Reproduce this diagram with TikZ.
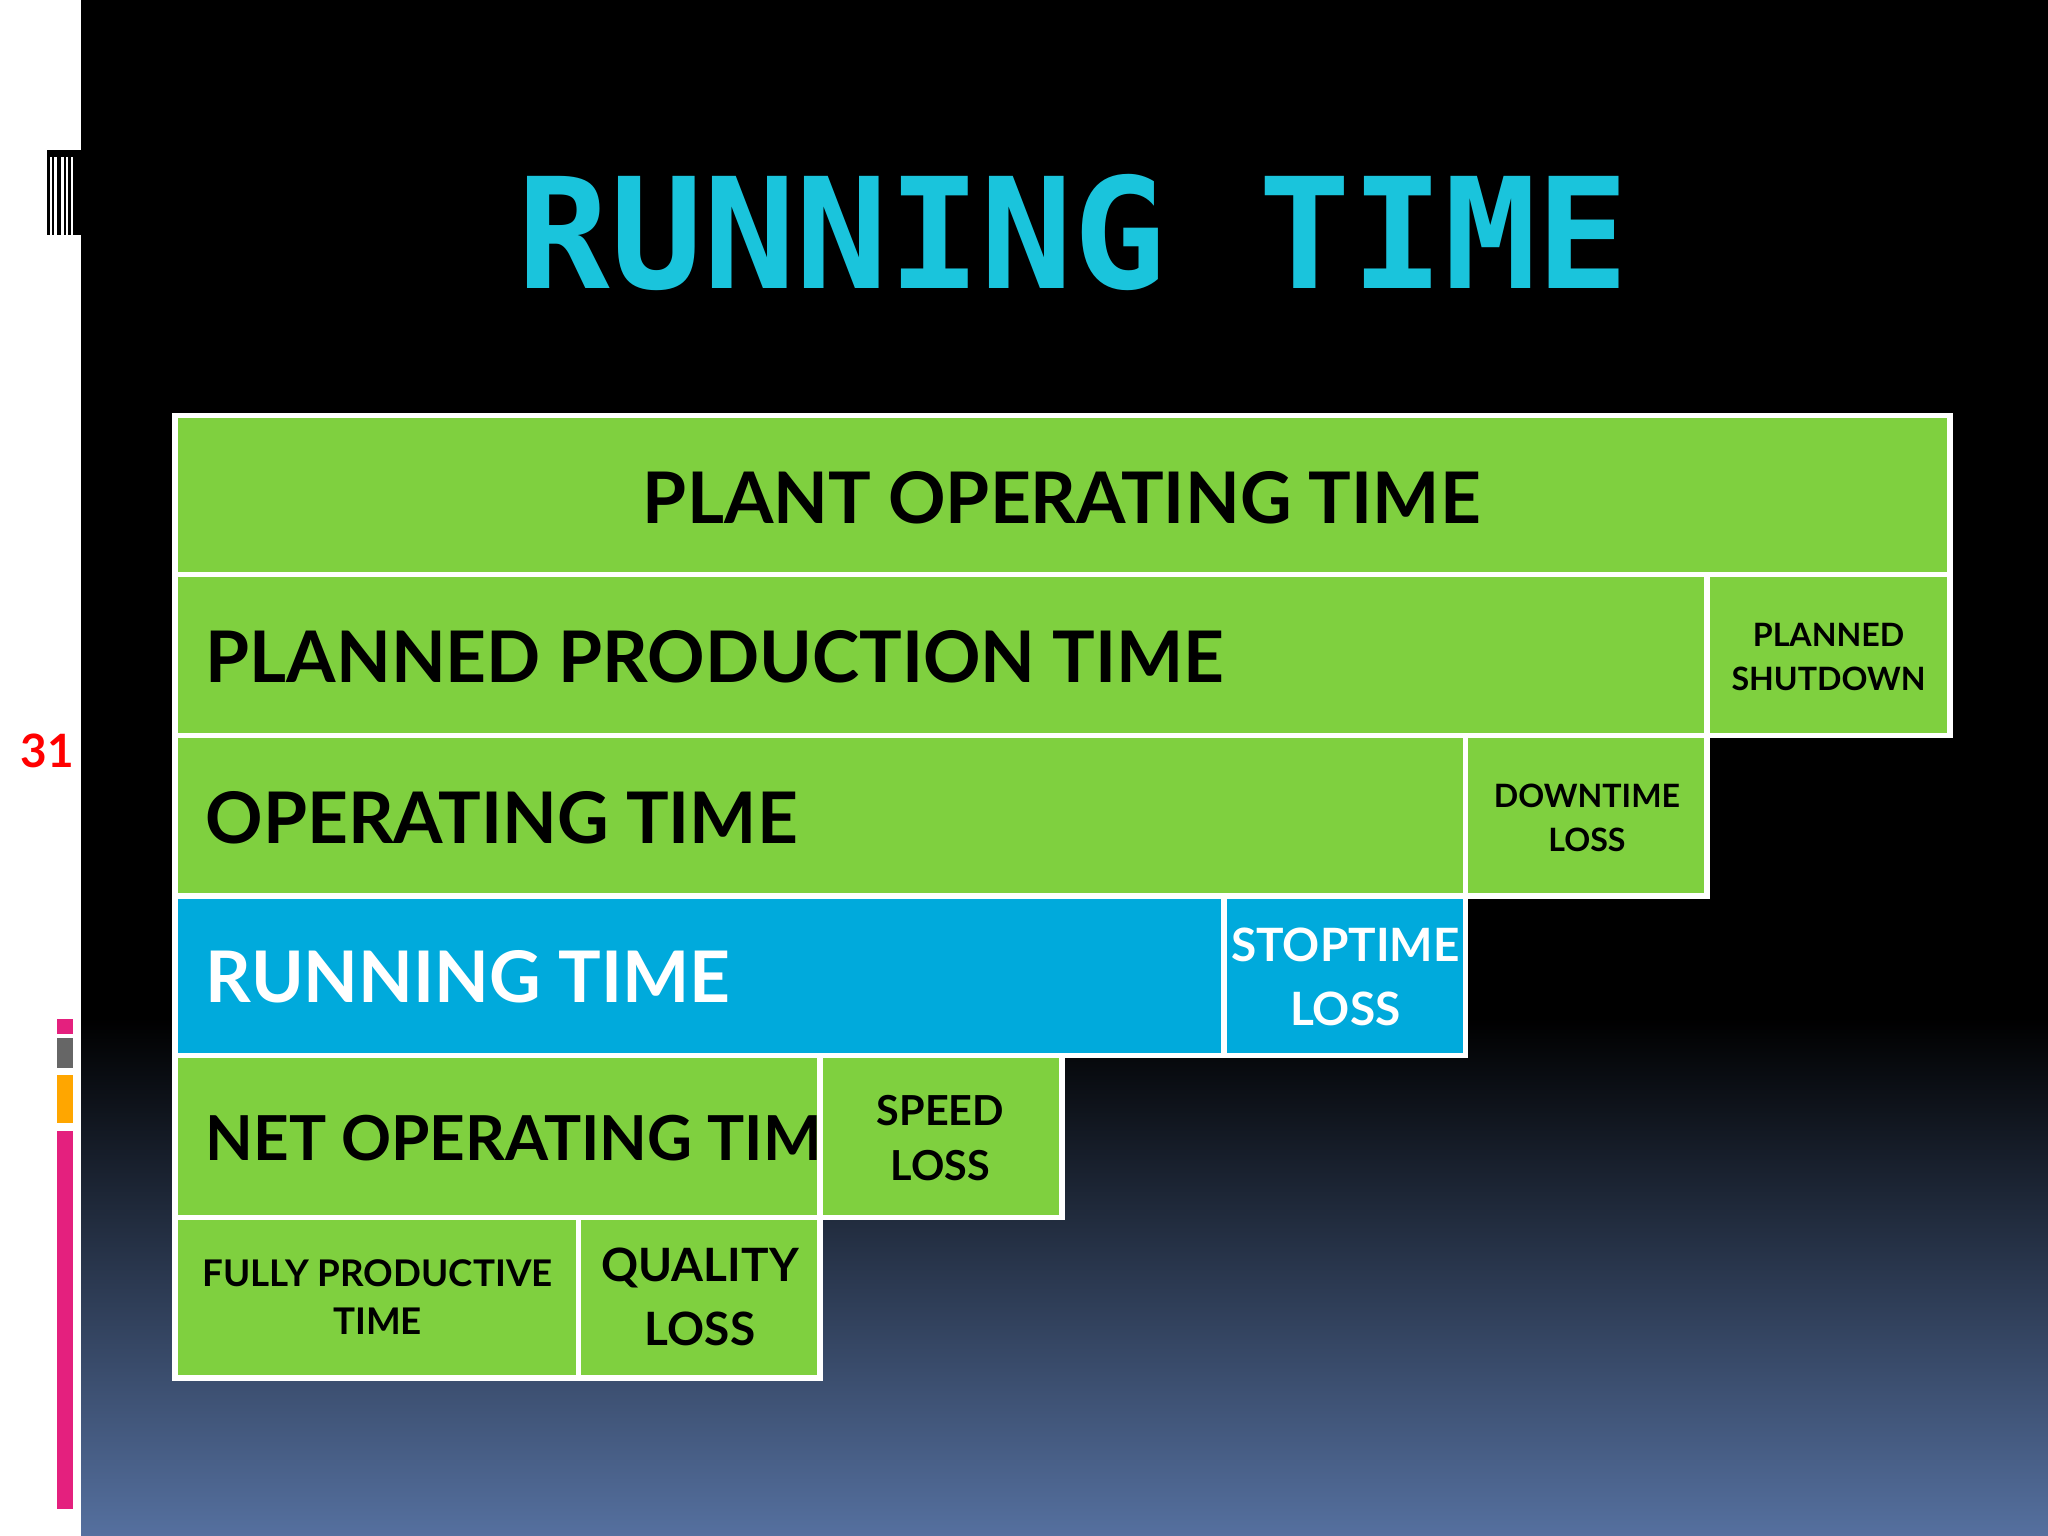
\documentclass[tikz,border=0pt]{standalone}
\usepackage{fontspec}
\setmainfont{Lato}
\newfontfamily\titlefont{DejaVu Sans Mono}
\begin{document}
\begin{tikzpicture}[x=0.01cm,y=-0.01cm,
 cell/.style={draw=white,line width=1.2pt,fill=lgreen},
 big/.style={font=\fontsize{15.5}{18}\selectfont\bfseries,anchor=west},
 small/.style={font=\fontsize{7}{9.5}\selectfont\bfseries,align=center},
 mid/.style={font=\fontsize{9}{12}\selectfont\bfseries,align=center}]
\definecolor{lgreen}{HTML}{7FD03F}
\definecolor{lblue}{HTML}{00AADC}
\definecolor{bgblue}{HTML}{55709F}
\definecolor{mag}{HTML}{E4207E}
\definecolor{tcyan}{HTML}{1AC4DC}
\useasboundingbox (0,0) rectangle (1568,1176);
\fill[black] (0,0) rectangle (1568,780);
\shade[top color=black,bottom color=bgblue] (0,779) rectangle (1568,1176);
\fill[white] (0,0) rectangle (62,1176);
\foreach \x/\w in {36/2,40/1.5,44/3,49/1.5,52/2,56/6}{\fill[black] (\x,115) rectangle ++(\w,65);}
\fill[black] (36,115) rectangle (62,120);
\node[text=red,font=\fontsize{10}{12}\selectfont\bfseries] (num) at (36,575) {31};
\fill[mag] (44,780) rectangle (56,792);
\fill[gray!80!black] (44,795) rectangle (56,818);
\fill[orange!70!yellow] (44,823) rectangle (56,860);
\fill[mag] (44,866) rectangle (56,1155);
\node[font=\titlefont\fontsize{33.5}{40}\selectfont\bfseries,text=tcyan] (title) at (822,178) {RUNNING TIME};
% rows
\draw[cell] (134,318) rectangle (1493,440);
\node[font=\fontsize{15.5}{18}\selectfont\bfseries] (r1) at (813,381) {PLANT OPERATING TIME};
\draw[cell] (134,440) rectangle (1307,563);
\node[big] (r2) at (145,503) {PLANNED PRODUCTION TIME};
\draw[cell] (1307,440) rectangle (1493,563);
\node[small] (r2b) at (1400,503) {PLANNED\\SHUTDOWN};
\draw[cell] (134,563) rectangle (1122,686);
\node[big] (r3) at (145,626) {OPERATING TIME};
\draw[cell] (1122,563) rectangle (1307,686);
\node[small] (r3b) at (1215,626) {DOWNTIME\\LOSS};
\draw[cell,fill=lblue] (134,686) rectangle (937,808);
\node[big,text=white] (r4) at (145,748) {RUNNING TIME};
\draw[cell,fill=lblue] (937,686) rectangle (1122,808);
\node[mid,text=white,font=\fontsize{10}{14}\selectfont\bfseries] (r4b) at (1030,748) {STOPTIME\\LOSS};
\draw[cell] (134,808) rectangle (628,932);
\node[big,font=\fontsize{13.5}{16}\selectfont\bfseries] (r5) at (145,871) {NET OPERATING TIME};
\draw[cell] (628,808) rectangle (813,932);
\node[mid] (r5b) at (720,871) {SPEED\\LOSS};
\draw[cell] (134,932) rectangle (443,1055);
\node[small,font=\fontsize{8}{10.5}\selectfont\bfseries] (r6) at (289,993) {FULLY PRODUCTIVE\\TIME};
\draw[cell] (443,932) rectangle (628,1055);
\node[mid,font=\fontsize{10}{14}\selectfont\bfseries] (r6b) at (536,993) {QUALITY\\LOSS};
\end{tikzpicture}
\end{document}
